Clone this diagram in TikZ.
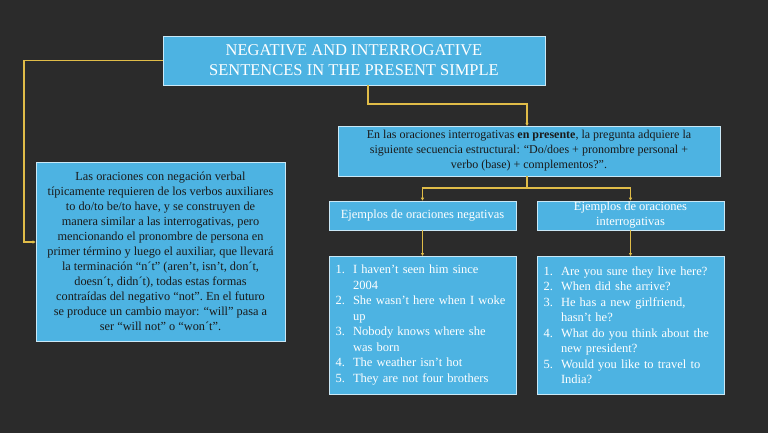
\documentclass[tikz,border=0pt]{standalone}
\usepackage{fontspec}
\setmainfont{Liberation Serif}
\usetikzlibrary{arrows.meta}
\definecolor{bg}{HTML}{2B2B2B}
\definecolor{boxc}{HTML}{4DB3E2}
\definecolor{ln}{HTML}{E0BC48}
\definecolor{txt}{HTML}{1A1A1A}
\tikzset{
  bx/.style={fill=boxc,draw=white!70!boxc,line width=0.6pt,inner sep=2pt,align=center},
  cn/.style={draw=ln,line width=1.2pt,-{Triangle[length=3pt,width=3pt]}},
}
\begin{document}
\begin{tikzpicture}[x=1pt,y=-1pt]
\fill[bg] (0,0) rectangle (768,433);
\useasboundingbox (0,0) rectangle (768,433);
\node[bx,minimum width=382,minimum height=49,text=white,font=\fontsize{16.5}{20}\selectfont] (title) at (354,60.5) {NEGATIVE AND INTERROGATIVE\\SENTENCES IN THE PRESENT SIMPLE};
\node[bx,minimum width=382,minimum height=50,text=txt,font=\fontsize{12}{15}\selectfont] (top) at (529,151) {En las oraciones interrogativas \textbf{en presente}, la pregunta adquiere la\\siguiente secuencia estructural: ``Do/does + pronombre personal +\\verbo (base) + complementos?''.};
\node[bx,minimum width=249,minimum height=179,text=txt,font=\fontsize{12.3}{15}\selectfont] (left) at (160.5,251.5) {Las oraciones con negación verbal\\típicamente requieren de los verbos auxiliares\\to do/to be/to have, y se construyen de\\manera similar a las interrogativas, pero\\mencionando el pronombre de persona en\\primer término y luego el auxiliar, que llevará\\la terminación ``n´t'' (aren't,\ isn't, don´t,\\doesn´t, didn´t), todas estas formas\\contraídas del negativo\ ``not''.\ En el futuro\\se produce un cambio mayor: ``will'' pasa a\\ser ``will not'' o ``won´t''.};
\node[bx,minimum width=187,minimum height=29,text=white,font=\fontsize{12.5}{13}\selectfont] (nh) at (422.5,215.5) {Ejemplos de oraciones negativas};
\node[bx,minimum width=187,minimum height=29,inner sep=0pt,text=white,font=\fontsize{12.5}{15}\selectfont] (ih) at (630.5,215.5) {Ejemplos de oraciones\\interrogativas};
\tikzset{lst/.style={bx,minimum width=187,minimum height=138,text width=183,align=left,anchor=north,inner sep=2pt,text=white,font=\fontsize{12.5}{15.5}\selectfont}}
\node[lst] (nl) at (422.5,256) {%
\begin{list}{}{\leftmargin=22pt\labelwidth=14pt\labelsep=8pt\itemsep=0pt\parsep=0pt\topsep=0pt}
\item[1.] I haven't seen him since\\2004
\item[2.] She wasn't here when I woke\\up
\item[3.] Nobody knows where she\\was born
\item[4.] The weather isn't hot
\item[5.] They are not four brothers
\end{list}\vspace{7pt}};
\node[lst] (il) at (630.5,256) {%
\begin{list}{}{\leftmargin=22pt\labelwidth=14pt\labelsep=8pt\itemsep=0pt\parsep=0pt\topsep=0pt}
\item[1.] Are you sure they live here?
\item[2.] When did she arrive?
\item[3.] He has a new girlfriend,\\hasn't he?
\item[4.] What do you think about the\\new president?
\item[5.] Would you like to travel to\\India?
\end{list}\vspace{7pt}};
\draw[cn] (title.west) -| (24,242) -- (left.west |- 0,242);
\draw[cn] (368,85) |- (527,104) -- (527,126);
\draw[cn] (527,176) -- (527,188) -| (nh.north);
\draw[cn] (527,188) -| (ih.north);
\draw[cn] (nh.south) -- (nl.north);
\draw[cn] (ih.south) -- (il.north);
\end{tikzpicture}
\end{document}
